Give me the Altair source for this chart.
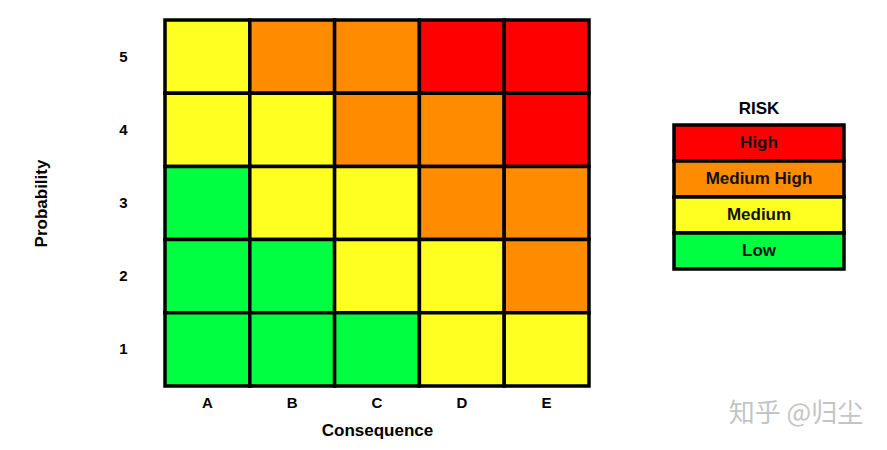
import altair as alt
import pandas as pd

consequence = ["A", "B", "C", "D", "E"]
probability = [5, 4, 3, 2, 1]
matrix = [
    ["Medium", "Medium High", "Medium High", "High", "High"],
    ["Medium", "Medium", "Medium High", "Medium High", "High"],
    ["Low", "Medium", "Medium", "Medium High", "Medium High"],
    ["Low", "Low", "Medium", "Medium", "Medium High"],
    ["Low", "Low", "Low", "Medium", "Medium"],
]
levels = ["High", "Medium High", "Medium", "Low"]
colors = ["#FF0000", "#FF8C00", "#FFFF22", "#00FF40"]

rows = []
for p, row in zip(probability, matrix):
    for c, lvl in zip(consequence, row):
        rows.append({"Consequence": c, "Probability": p, "Risk": lvl})
df = pd.DataFrame(rows)
leg = pd.DataFrame({"Risk": levels})

FONT = "Liberation Sans"
color_scale = alt.Scale(domain=levels, range=colors)

grid = alt.Chart(df).mark_rect(stroke="black", strokeWidth=3.5).encode(
    x=alt.X("Consequence:N", sort=consequence,
            scale=alt.Scale(paddingInner=0, paddingOuter=0),
            axis=alt.Axis(orient="bottom", labelAngle=0, ticks=False, domain=False,
                          labelPadding=9, labelFontSize=15, labelFontWeight="bold",
                          labelFont=FONT, labelColor="black",
                          title="Consequence", titleFontSize=17, titleFontWeight="bold",
                          titleFont=FONT, titleColor="black", titlePadding=12)),
    y=alt.Y("Probability:N", sort=probability,
            scale=alt.Scale(paddingInner=0, paddingOuter=0),
            axis=alt.Axis(ticks=False, domain=False, labelPadding=38,
                          labelFontSize=15, labelFontWeight="bold", labelFont=FONT,
                          labelColor="black", title="Probability", titleFontSize=17,
                          titleFontWeight="bold", titleFont=FONT, titleColor="black",
                          titlePadding=68)),
    color=alt.Color("Risk:N", scale=color_scale, legend=None),
).properties(width=424, height=366)

ly = alt.Y("Risk:N", sort=levels, scale=alt.Scale(range=[105, 249], paddingInner=0, paddingOuter=0),
           axis=None)
leg_rect = alt.Chart(leg).mark_rect(stroke="black", strokeWidth=3.5).encode(
    y=ly, color=alt.Color("Risk:N", scale=color_scale, legend=None))
leg_text = alt.Chart(leg).mark_text(font=FONT, fontSize=17, fontWeight="bold",
                                    color="#111111").encode(y=ly, text="Risk:N")
title_df = pd.DataFrame({"t": ["RISK"]})
leg_title = alt.Chart(title_df).mark_text(font=FONT, fontSize=17, fontWeight="bold",
                                          color="black").encode(
    text="t:N", y=alt.value(89))
wm_df = pd.DataFrame({"t": ["知乎 @归尘"]})
watermark = alt.Chart(wm_df).mark_text(font="Noto Sans CJK SC", fontSize=26,
                                       color="#c4c4c4").encode(
    text="t:N", x=alt.value(122), y=alt.value(394))

legend = alt.layer(leg_rect, leg_text, leg_title, watermark).properties(width=170, height=366)

chart = alt.hconcat(grid, legend, spacing=81).properties(
    padding={"left": 24, "top": 10, "right": 5, "bottom": 5}
).configure_view(stroke=None)

chart.save("out.html", embed_options={"renderer": "svg", "actions": False})
